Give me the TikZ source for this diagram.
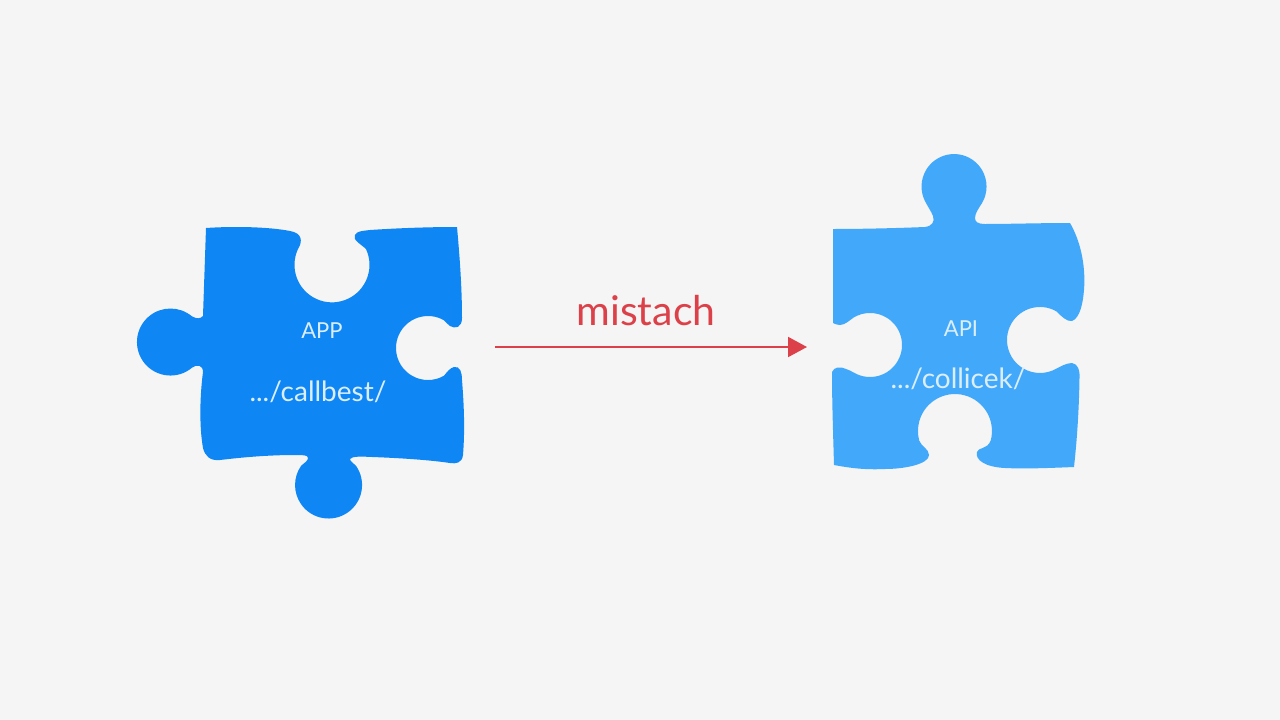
\documentclass[tikz,border=0pt]{standalone}
\usepackage{fontspec}
\setmainfont{Lato}
\usetikzlibrary{arrows.meta}
\definecolor{bgc}{HTML}{F5F5F5}
\definecolor{appblue}{HTML}{0E86F4}
\definecolor{apiblue}{HTML}{42A9FA}
\definecolor{redc}{HTML}{DC4149}
\definecolor{labc}{HTML}{DCEEFC}
\tikzset{
  piece/.style={line join=round},
  tag/.style={text=labc,inner sep=0pt,font=\fontsize{22}{24}\selectfont},
  tagpath/.style={text=labc,inner sep=0pt,font=\fontsize{28}{30}\selectfont},
  warn/.style={text=redc,inner sep=0pt,font=\fontsize{41}{43}\selectfont},
  flow/.style={draw=redc,line width=2pt,-{Triangle[length=19pt,width=20pt]}}
}
\begin{document}
\begin{tikzpicture}[x=1pt,y=-1pt]
\useasboundingbox (0,0) rectangle (1280,720);
\fill[bgc] (0,0) rectangle (1280,720);
% left piece
\fill[appblue,piece]
  (206,228)
  .. controls (235,226) and (270,227) .. (290,231)
  .. controls (302,233) and (303,241) .. (298,249)
  arc[start angle=205,end angle=-25,radius=37.5]
  .. controls (362,245) and (352,240) .. (355,235)
  .. controls (357,231) and (362,231) .. (370,230)
  .. controls (400,228) and (430,227) .. (457,227)
  .. controls (460,260) and (462,290) .. (462,318)
  .. controls (462,328) and (455,329) .. (450,326)
  .. controls (448,325) and (446,322) .. (444,320.3)
  arc[start angle=-60,end angle=-300,radius=32]
  .. controls (447,372) and (450,368) .. (454,367)
  .. controls (460,366) and (462,372) .. (462,380)
  .. controls (464,405) and (465,430) .. (463,455)
  .. controls (462,463) and (456,464) .. (450,463)
  .. controls (430,460) and (400,458) .. (372,457)
  .. controls (362,456.5) and (352,456) .. (350,459)
  .. controls (350,461) and (353,463) .. (356,465.8)
  arc[start angle=-35,end angle=215,radius=33.5]
  .. controls (304,463) and (308,461) .. (308,458)
  .. controls (308,455) and (303,455) .. (295,455)
  .. controls (270,455) and (245,457) .. (220,460)
  .. controls (210,461) and (205,456) .. (203,448)
  .. controls (199,425) and (200,395) .. (203,372)
  .. controls (203,365) and (197,364) .. (192,367.7)
  arc[start angle=50,end angle=310,radius=33.5]
  .. controls (197,319) and (200,319) .. (203,316)
  -- cycle;
% right piece
\fill[apiblue,piece]
  (833,229)
  .. controls (865,229) and (900,228) .. (925,227)
  .. controls (932,226) and (935,222) .. (933,216)
  .. controls (931,211) and (928,207) .. (925.9,202.8)
  arc[start angle=150,end angle=390,radius=32.5]
  .. controls (979,208) and (975,213) .. (975,218)
  .. controls (975,222) and (978,224) .. (985,224)
  .. controls (1010,224) and (1040,223) .. (1070,223)
  .. controls (1080,240) and (1086,265) .. (1084,290)
  .. controls (1083,303) and (1080,318) .. (1072,321)
  .. controls (1067,322) and (1061,316) .. (1056.5,311.4)
  arc[start angle=-60,end angle=-300,radius=33]
  .. controls (1060,367) and (1066,363) .. (1072,363)
  .. controls (1078,364) and (1080,370) .. (1079.5,378)
  .. controls (1079,410) and (1077,440) .. (1074,467)
  .. controls (1050,468) and (1025,469) .. (1005,468)
  .. controls (985,467) and (975,460) .. (977,452)
  .. controls (978,447) and (987,450) .. (990.7,440.6)
  arc[start angle=15,end angle=-195,radius=37]
  .. controls (921,446) and (929,449) .. (929,455)
  .. controls (929,464) and (905,469) .. (885,469)
  .. controls (865,470) and (850,468) .. (834,465)
  .. controls (833,430) and (832,400) .. (832,372)
  .. controls (834,367) and (840,366) .. (846,369)
  .. controls (849,370) and (851,371) .. (854,372.7)
  arc[start angle=120,end angle=-120,radius=32]
  .. controls (850,320) and (845,325) .. (840,325)
  .. controls (837,325) and (835,324) .. (833,323)
  -- cycle;
\node[tag] (applabel) at (322,331) {APP};
\node[tagpath] (apppath) at (318,392) {.../callbest/};
\node[tag] (apilabel) at (961,329) {API};
\node[tagpath] (apipath) at (958,379) {.../collicek/};
\node[warn] (mismatch) at (646,311) {mistach};
\coordinate (from) at (495,347);
\coordinate (to) at (807,347);
\draw[flow] (from) -- (to);
\end{tikzpicture}
\end{document}
